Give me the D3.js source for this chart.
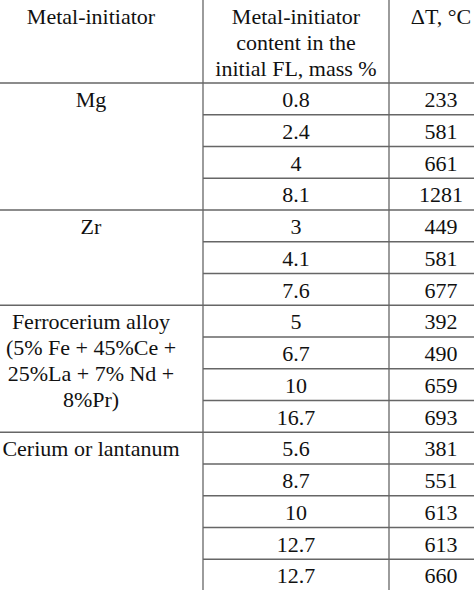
<!DOCTYPE html>
<html><head><meta charset="utf-8">
<script src="https://cdn.jsdelivr.net/npm/d3@7"></script>
<style>body{margin:0;background:#fff}svg{display:block}</style>
</head><body>
<svg id="t" width="474" height="590"></svg>
<script>
// table data
var groups = ["Mg", "Zr", "Ferrocerium alloy\n(5% Fe + 45%Ce +\n25%La + 7% Nd +\n8%Pr)", "Cerium or lantanum"];
var groupRows = [4, 3, 4, 5];
var content = ["0.8", "2.4", "4", "8.1", "3", "4.1", "7.6", "5", "6.7", "10", "16.7", "5.6", "8.7", "10", "12.7", "12.7"];
var deltaT = ["233", "581", "661", "1281", "449", "581", "677", "392", "490", "659", "693", "381", "551", "613", "613", "660"];
var headers = ["Metal-initiator", "Metal-initiator\ncontent in the\ninitial FL, mass %", "ΔT, °C"];

var svg = d3.select("#t");
var headH = 83, rowH = 31.75;
var colX = [-20, 203, 389, 493];
var y = d3.scaleLinear().domain([0, content.length]).range([headH, headH + rowH * content.length]);
var lineCol = "#666";
var font = "'Liberation Serif', Tinos, 'Times New Roman', 'DejaVu Serif', serif";

//horizontal lines: row lines in cols 2-3, group lines full width
var starts = [0];
groupRows.forEach(function(n, i){ starts.push(starts[i] + n); });
d3.range(content.length).forEach(function(i){
    var full = starts.indexOf(i) >= 0;
    svg.append("line").attr("x1", full ? 0 : colX[1]).attr("x2", 474)
       .attr("y1", y(i)).attr("y2", y(i)).attr("stroke", lineCol).attr("stroke-width", 1.3);
});
//vertical lines
[colX[1], colX[2]].forEach(function(x){
    svg.append("line").attr("x1", x).attr("x2", x).attr("y1", 0).attr("y2", 590)
       .attr("stroke", lineCol).attr("stroke-width", 1.3);
});

function multi(text, cx, top){
    var t = svg.append("text").attr("x", cx).attr("text-anchor", "middle")
        .style("font-family", font).attr("font-size", 22).attr("fill", "#111");
    text.split("\n").forEach(function(s, k){
        t.append("tspan").attr("x", cx).attr("y", top + 26 * k).text(s);
    });
}
var cxs = [91, 296, 441];
headers.forEach(function(h, i){ multi(h, cxs[i], 24); });
groups.forEach(function(g, i){ multi(g, cxs[0], y(starts[i]) + 24); });
content.forEach(function(c, i){
    multi(c, cxs[1], y(i) + 24);
    multi(deltaT[i], cxs[2], y(i) + 24);
});
</script>
</body></html>
